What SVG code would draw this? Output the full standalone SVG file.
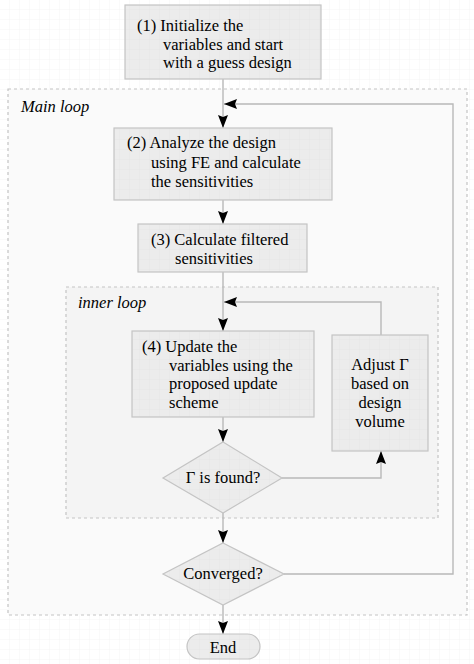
<svg xmlns="http://www.w3.org/2000/svg" width="474" height="664" viewBox="0 0 474 664">
<defs>
<pattern id="grid" width="10" height="10" patternUnits="userSpaceOnUse">
<path d="M10 0 V10 M0 10 H10" fill="none" stroke="#f1f1f1" stroke-width="0.8"/>
</pattern>
<pattern id="boxgrid" width="10" height="10" patternUnits="userSpaceOnUse">
<rect width="10" height="10" fill="#ececec"/>
<path d="M10 0 V10 M0 10 H10" fill="none" stroke="#e2e2e2" stroke-width="0.8"/>
</pattern>
<marker id="arr" viewBox="0 0 13 10" refX="13" refY="5" markerWidth="13" markerHeight="10" markerUnits="userSpaceOnUse" orient="auto">
<path d="M0 0 L13 5 L0 10 L2 5 Z" fill="#000"/>
</marker>
</defs>
<style>
.t{font-family:"Liberation Serif","Times New Roman",serif;font-size:16.5px;fill:#000}
.i{font-style:italic}
.box{fill:url(#boxgrid);stroke:#c4c4c4;stroke-width:1.2}
.loop{stroke:#c4c4c4;stroke-width:1.2;stroke-dasharray:3 3}
.c{fill:none;stroke:#b8b8b8;stroke-width:1.4}
</style>
<rect width="474" height="664" fill="#fff"/>
<rect width="474" height="664" fill="url(#grid)"/>
<g id="main-loop">
<rect class="loop" x="8" y="89" width="459" height="526" fill="#fafafa"/>
<text class="t i" x="21" y="112">Main loop</text>
</g>
<g id="inner-loop">
<rect class="loop" x="66" y="287" width="372" height="231" fill="#f4f4f4"/>
<text class="t i" x="78" y="308">inner loop</text>
</g>
<g id="connectors">
<path class="c" d="M223 79 V128" marker-end="url(#arr)"/>
<path class="c" d="M223 200 V224" marker-end="url(#arr)"/>
<path class="c" d="M223 272 V331" marker-end="url(#arr)"/>
<path class="c" d="M223 417 V442" marker-end="url(#arr)"/>
<path class="c" d="M223 513 V543" marker-end="url(#arr)"/>
<path class="c" d="M223 605 V634" marker-end="url(#arr)"/>
<path class="c" d="M282 478 H381 V451" marker-end="url(#arr)"/>
<path class="c" d="M381 335 V302 H224" marker-end="url(#arr)"/>
<path class="c" d="M284 574 H453 V104 H224" marker-end="url(#arr)"/>
</g>
<g id="n1">
<rect class="box" x="125" y="5" width="196" height="74"/>
<text class="t" x="137" y="31">(1) Initialize the</text>
<text class="t" x="163" y="49.5">variables and start</text>
<text class="t" x="163" y="68">with a guess design</text>
</g>
<g id="n2">
<rect class="box" x="114" y="128" width="218" height="72"/>
<text class="t" x="127" y="148">(2) Analyze the design</text>
<text class="t" x="151" y="167.5">using FE and calculate</text>
<text class="t" x="151" y="187">the sensitivities</text>
</g>
<g id="n3">
<rect class="box" x="138" y="224" width="169" height="48"/>
<text class="t" x="151" y="245">(3) Calculate filtered</text>
<text class="t" x="175" y="264">sensitivities</text>
</g>
<g id="n4">
<rect class="box" x="132" y="331" width="182" height="86"/>
<text class="t" x="142" y="352">(4) Update the</text>
<text class="t" x="169" y="370.5">variables using the</text>
<text class="t" x="169" y="389">proposed update</text>
<text class="t" x="169" y="407.5">scheme</text>
</g>
<g id="n5">
<rect class="box" x="332" y="335" width="96" height="116"/>
<text class="t" x="380" y="370" text-anchor="middle">Adjust Γ</text>
<text class="t" x="380" y="389" text-anchor="middle">based on</text>
<text class="t" x="380" y="408" text-anchor="middle">design</text>
<text class="t" x="380" y="427" text-anchor="middle">volume</text>
</g>
<g id="d1">
<path class="box" d="M223 442 L282 478 L223 513 L163 478 Z"/>
<text class="t" x="223" y="483" text-anchor="middle">Γ is found?</text>
</g>
<g id="d2">
<path class="box" d="M223 543 L284 574 L223 605 L163 574 Z"/>
<text class="t" x="223" y="579" text-anchor="middle">Converged?</text>
</g>
<g id="end">
<rect class="box" x="187" y="634" width="73" height="25" rx="12.5"/>
<text class="t" x="223" y="652.5" text-anchor="middle">End</text>
</g>
</svg>
